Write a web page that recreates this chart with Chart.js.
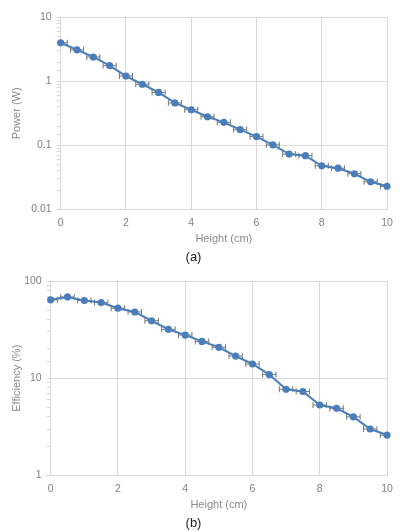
<!DOCTYPE html>
<html>
<head>
<meta charset="utf-8">
<script src="https://cdn.jsdelivr.net/npm/chart.js@4.4.1/dist/chart.umd.min.js"></script>
<style>
  html, body { margin: 0; padding: 0; background: #fff; }
  .box { position: relative; width: 402px; }
  #boxA { height: 265px; }
  #boxB { height: 266px; }
</style>
</head>
<body>
<div class="box" id="boxA"><canvas id="chartA"></canvas></div>
<div class="box" id="boxB"><canvas id="chartB"></canvas></div>
<script>
// ---- data ----
const heights = [0, 0.5, 1, 1.5, 2, 2.5, 3, 3.5, 4, 4.5, 5, 5.5, 6, 6.5, 7, 7.5, 8, 8.5, 9, 9.5, 10];
const powerW = [4.0, 3.1, 2.4, 1.76, 1.21, 0.90, 0.67, 0.46, 0.36, 0.28, 0.229, 0.176, 0.137, 0.102, 0.073, 0.069, 0.048, 0.044, 0.036, 0.027, 0.023];
const efficiencyPct = [64, 68.5, 63, 60, 52.5, 48, 39, 31.8, 27.8, 23.9, 20.8, 16.9, 14.0, 10.9, 7.7, 7.3, 5.3, 4.9, 4.0, 3.0, 2.6];
const heightErr = [0.2, 0.2, 0.2, 0.2, 0.2, 0.2, 0.2, 0.2, 0.2, 0.2, 0.2, 0.2, 0.2, 0.2, 0.2, 0.2, 0.2, 0.2, 0.2, 0.2, 0.2];
const xTicks = [0, 2, 4, 6, 8, 10];
const powerMajorTicks = [0.01, 0.1, 1, 10];
const effMajorTicks = [1, 10, 100];

const FONT = "'Liberation Sans', Arial, sans-serif";
const BLUE = '#4a7ebb';

// horizontal error bars drawn through the chart scales
const errorBarPlugin = {
  id: 'xErrorBars',
  beforeDatasetsDraw(chart) {
    const {ctx, chartArea, scales: {x, y}} = chart;
    const ds = chart.data.datasets[0];
    ctx.save();
    ctx.beginPath();
    ctx.rect(chartArea.left, chartArea.top - 5, chartArea.right - chartArea.left, chartArea.bottom - chartArea.top + 10);
    ctx.clip();
    ctx.strokeStyle = '#777777';
    ctx.lineWidth = 1;
    ds.data.forEach((p, i) => {
      const e = heightErr[i];
      const py = y.getPixelForValue(p.y);
      const x0 = x.getPixelForValue(p.x - e);
      const x1 = x.getPixelForValue(p.x + e);
      ctx.beginPath();
      ctx.moveTo(x0, py); ctx.lineTo(x1, py);
      ctx.moveTo(x0, py - 3); ctx.lineTo(x0, py + 3);
      ctx.moveTo(x1, py - 3); ctx.lineTo(x1, py + 3);
      ctx.stroke();
    });
    ctx.restore();
  }
};

function makeChart(id, values, yMin, yMax, majors, yTitle, label, yWidth, xHeight, padTop) {
  const isMajor = v => majors.some(m => Math.abs(v - m) / m < 1e-6);
  return new Chart(document.getElementById(id), {
    type: 'line',
    data: {
      datasets: [{
        data: heights.map((h, i) => ({x: h, y: values[i]})),
        borderColor: BLUE,
        backgroundColor: BLUE,
        borderWidth: 2,
        pointRadius: 3.6,
        pointHoverRadius: 3.6,
        pointBorderWidth: 0,
        tension: 0,
        clip: false
      }]
    },
    options: {
      responsive: true,
      maintainAspectRatio: false,
      animation: false,
      events: [],
      layout: { padding: { left: 0, right: 15, top: padTop, bottom: 0 } },
      plugins: {
        legend: { display: false },
        tooltip: { enabled: false },
        title: {
          display: true,
          text: label,
          position: 'bottom',
          color: '#222',
          font: { family: FONT, size: 13, weight: 'normal', lineHeight: 1.2 },
          padding: { top: 0, bottom: 0 }
        }
      },
      scales: {
        x: {
          type: 'linear',
          min: 0, max: 10,
          afterBuildTicks: s => { s.ticks = xTicks.map(v => ({value: v})); },
          afterFit: s => { s.height = xHeight; },
          grid: { color: '#d9d9d9', lineWidth: 1, drawTicks: false },
          border: { color: '#d9d9d9' },
          ticks: { color: '#7f7f7f', font: { family: FONT, size: 10.5 }, padding: 7, maxRotation: 0 },
          title: { display: true, text: 'Height (cm)', color: '#8a8a8a',
                   font: { family: FONT, size: 11 }, padding: { top: 0, bottom: 3.5 } }
        },
        y: {
          type: 'logarithmic',
          min: yMin, max: yMax,
          afterFit: s => { s.width = yWidth; },
          grid: {
            color: c => (c.tick && isMajor(c.tick.value)) ? '#d9d9d9' : 'rgba(0,0,0,0)',
            tickColor: '#d4d4d4',
            tickLength: 4,
            lineWidth: 1
          },
          border: { color: '#d9d9d9' },
          ticks: {
            autoSkip: false,
            color: '#7f7f7f',
            font: { family: FONT, size: 10.5 },
            padding: 5,
            callback: v => isMajor(v) ? String(v) : ''
          },
          title: { display: true, text: yTitle, color: '#8a8a8a',
                   font: { family: FONT, size: 11 }, padding: { top: 10, bottom: 0 } }
        }
      }
    },
    plugins: [errorBarPlugin]
  });
}

makeChart('chartA', powerW, 0.01, 10, powerMajorTicks, 'Power (W)', '(a)', 60.7, 40, 17.3);
makeChart('chartB', efficiencyPct, 1, 100, effMajorTicks, 'Efficiency (%)', '(b)', 50.7, 40, 16);
</script>
</body>
</html>
